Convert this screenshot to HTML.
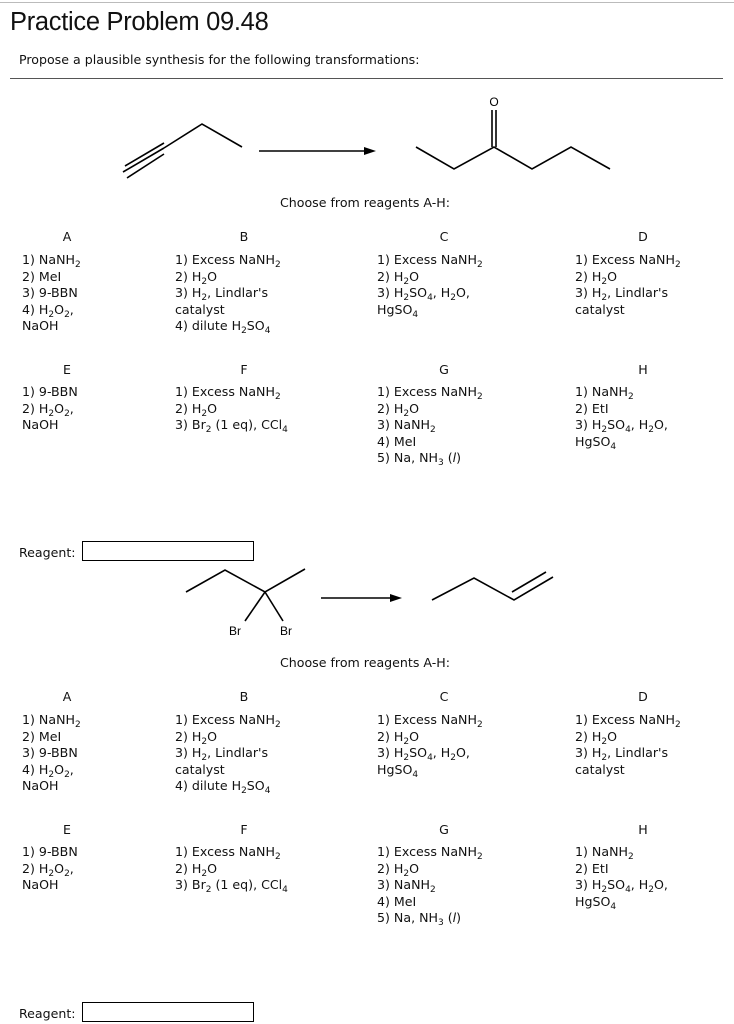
<!DOCTYPE html>
<html><head><meta charset="utf-8"><style>
body{margin:0;width:734px;height:1024px;background:#fff;position:relative;overflow:hidden;font-family:"DejaVu Sans","Liberation Sans",sans-serif;color:#111}
.t{position:absolute;font-size:12.6px;line-height:16.6px;white-space:nowrap}
.l{position:absolute;width:20px;text-align:center;margin-left:-10px}
sub{font-size:9px;vertical-align:-3px;line-height:0}
.box{position:absolute;left:82px;width:170px;height:18px;border:1px solid #000}
svg{position:absolute;left:0;top:0}
</style></head><body>
<div style="position:absolute;left:0;top:2px;width:734px;height:1px;background:#bbb"></div>
<div style="position:absolute;left:10px;top:8px;font-family:'Liberation Sans',sans-serif;font-size:25.5px;letter-spacing:-0.3px">Practice Problem 09.48</div>
<div class="t" style="left:19px;top:52px">Propose a plausible synthesis for the following transformations:</div>
<div style="position:absolute;left:10px;top:78px;width:713px;height:1px;background:#555"></div>

<svg width="734" height="1024" stroke="#000" stroke-width="1.6" fill="none">
<line x1="125" y1="166" x2="164" y2="143"/>
<line x1="123" y1="172" x2="164" y2="148"/>
<line x1="127" y1="178" x2="164" y2="154"/>
<polyline points="164,148 202,124 242,147"/>
<line x1="259" y1="151" x2="366" y2="151"/>
<polygon points="376,151 364,147 364,155" fill="#000" stroke="none"/>
<polyline points="416,147 454,169 494,147 532,169 571,147 610,169"/>
<line x1="492" y1="147" x2="492" y2="110"/>
<line x1="496" y1="147" x2="496" y2="110"/>
<text x="494" y="106" font-size="12" text-anchor="middle" stroke="none" fill="#000" font-family="Liberation Sans">O</text>
<polyline points="186,592 225,570 265,592 305,569"/>
<line x1="265" y1="592" x2="245" y2="621"/>
<line x1="265" y1="592" x2="283" y2="621"/>
<text x="229" y="635" font-size="12" stroke="none" fill="#000" font-family="Liberation Sans">Br</text>
<text x="280" y="635" font-size="12" stroke="none" fill="#000" font-family="Liberation Sans">Br</text>
<line x1="321" y1="598" x2="392" y2="598"/>
<polygon points="402,598 390,594 390,602" fill="#000" stroke="none"/>
<polyline points="432,600 474,578 514,600 553,577"/>
<line x1="512" y1="592" x2="546" y2="572"/>
</svg>

<div class="t" style="left:280px;top:195px">Choose from reagents A-H:</div>
<div class="l t" style="left:67px;top:229px">A</div>
<div class="l t" style="left:244px;top:229px">B</div>
<div class="l t" style="left:444px;top:229px">C</div>
<div class="l t" style="left:643px;top:229px">D</div>
<div class="t" style="left:22px;top:252px">1) NaNH<sub>2</sub><br>2) MeI<br>3) 9-BBN<br>4) H<sub>2</sub>O<sub>2</sub>,<br>NaOH</div>
<div class="t" style="left:175px;top:252px">1) Excess NaNH<sub>2</sub><br>2) H<sub>2</sub>O<br>3) H<sub>2</sub>, Lindlar's<br>catalyst<br>4) dilute H<sub>2</sub>SO<sub>4</sub></div>
<div class="t" style="left:377px;top:252px">1) Excess NaNH<sub>2</sub><br>2) H<sub>2</sub>O<br>3) H<sub>2</sub>SO<sub>4</sub>, H<sub>2</sub>O,<br>HgSO<sub>4</sub></div>
<div class="t" style="left:575px;top:252px">1) Excess NaNH<sub>2</sub><br>2) H<sub>2</sub>O<br>3) H<sub>2</sub>, Lindlar's<br>catalyst</div>
<div class="l t" style="left:67px;top:362px">E</div>
<div class="l t" style="left:244px;top:362px">F</div>
<div class="l t" style="left:444px;top:362px">G</div>
<div class="l t" style="left:643px;top:362px">H</div>
<div class="t" style="left:22px;top:384px">1) 9-BBN<br>2) H<sub>2</sub>O<sub>2</sub>,<br>NaOH</div>
<div class="t" style="left:175px;top:384px">1) Excess NaNH<sub>2</sub><br>2) H<sub>2</sub>O<br>3) Br<sub>2</sub> (1 eq), CCl<sub>4</sub></div>
<div class="t" style="left:377px;top:384px">1) Excess NaNH<sub>2</sub><br>2) H<sub>2</sub>O<br>3) NaNH<sub>2</sub><br>4) MeI<br>5) Na, NH<sub>3</sub> (<i>l</i>)</div>
<div class="t" style="left:575px;top:384px">1) NaNH<sub>2</sub><br>2) EtI<br>3) H<sub>2</sub>SO<sub>4</sub>, H<sub>2</sub>O,<br>HgSO<sub>4</sub></div>
<div class="t" style="left:19px;top:545px">Reagent:</div>
<div class="box" style="top:541px"></div>

<div class="t" style="left:280px;top:655px">Choose from reagents A-H:</div>
<div class="l t" style="left:67px;top:689px">A</div>
<div class="l t" style="left:244px;top:689px">B</div>
<div class="l t" style="left:444px;top:689px">C</div>
<div class="l t" style="left:643px;top:689px">D</div>
<div class="t" style="left:22px;top:712px">1) NaNH<sub>2</sub><br>2) MeI<br>3) 9-BBN<br>4) H<sub>2</sub>O<sub>2</sub>,<br>NaOH</div>
<div class="t" style="left:175px;top:712px">1) Excess NaNH<sub>2</sub><br>2) H<sub>2</sub>O<br>3) H<sub>2</sub>, Lindlar's<br>catalyst<br>4) dilute H<sub>2</sub>SO<sub>4</sub></div>
<div class="t" style="left:377px;top:712px">1) Excess NaNH<sub>2</sub><br>2) H<sub>2</sub>O<br>3) H<sub>2</sub>SO<sub>4</sub>, H<sub>2</sub>O,<br>HgSO<sub>4</sub></div>
<div class="t" style="left:575px;top:712px">1) Excess NaNH<sub>2</sub><br>2) H<sub>2</sub>O<br>3) H<sub>2</sub>, Lindlar's<br>catalyst</div>
<div class="l t" style="left:67px;top:822px">E</div>
<div class="l t" style="left:244px;top:822px">F</div>
<div class="l t" style="left:444px;top:822px">G</div>
<div class="l t" style="left:643px;top:822px">H</div>
<div class="t" style="left:22px;top:844px">1) 9-BBN<br>2) H<sub>2</sub>O<sub>2</sub>,<br>NaOH</div>
<div class="t" style="left:175px;top:844px">1) Excess NaNH<sub>2</sub><br>2) H<sub>2</sub>O<br>3) Br<sub>2</sub> (1 eq), CCl<sub>4</sub></div>
<div class="t" style="left:377px;top:844px">1) Excess NaNH<sub>2</sub><br>2) H<sub>2</sub>O<br>3) NaNH<sub>2</sub><br>4) MeI<br>5) Na, NH<sub>3</sub> (<i>l</i>)</div>
<div class="t" style="left:575px;top:844px">1) NaNH<sub>2</sub><br>2) EtI<br>3) H<sub>2</sub>SO<sub>4</sub>, H<sub>2</sub>O,<br>HgSO<sub>4</sub></div>
<div class="t" style="left:19px;top:1006px">Reagent:</div>
<div class="box" style="top:1002px"></div>
</body></html>
